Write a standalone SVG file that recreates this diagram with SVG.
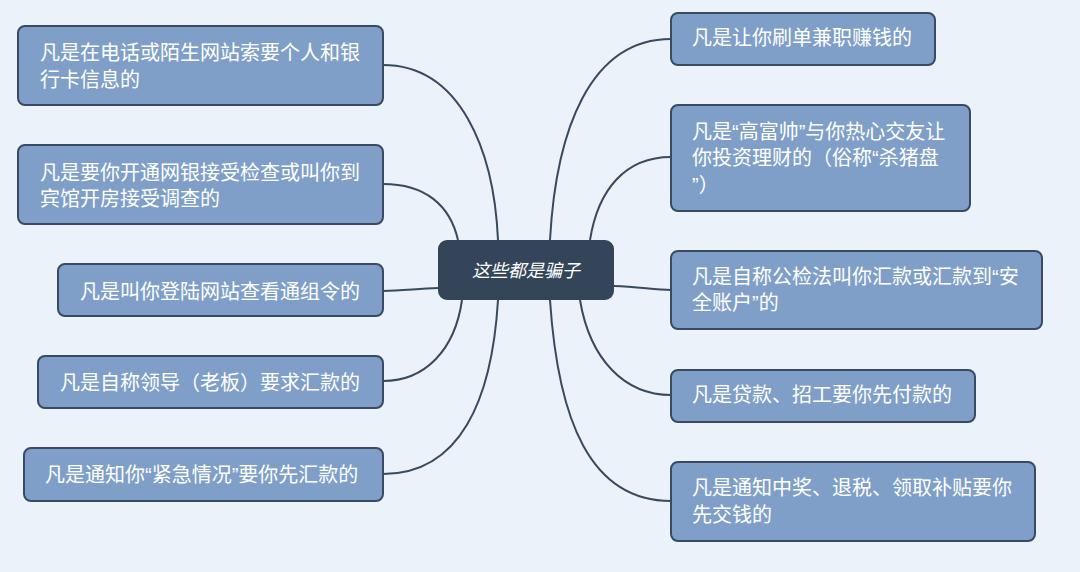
<svg xmlns="http://www.w3.org/2000/svg" width="1080" height="572" viewBox="0 0 1080 572">
<style>
.bg{fill:#ecf2f9}
.box{fill:#7f9fc8;stroke:#3a4a62;stroke-width:2}
.root{fill:#344459;stroke:#344459;stroke-width:2}
.t{font-family:"Liberation Sans","Noto Sans CJK SC",sans-serif;font-size:20px;fill:#ffffff}
.rt{font-family:"Liberation Sans","Noto Sans CJK SC",sans-serif;font-size:18px;font-style:italic;fill:#ffffff;text-anchor:middle}
.c{fill:none;stroke:#3a4a5e;stroke-width:2}
</style>
<rect class="bg" x="0" y="0" width="1080" height="572"/>
<g id="connectors">
<path class="c" d="M498 240 C494 150 460 65 383 65"/>
<path class="c" d="M458 240 C450 205 425 184 383 184"/>
<path class="c" d="M438 288 C415 289 400 291 383 291"/>
<path class="c" d="M462 300 C455 350 425 381 383 381"/>
<path class="c" d="M498 300 C492 400 460 474 383 474"/>
<path class="c" d="M550 240 C556 130 590 39 671 39"/>
<path class="c" d="M590 240 C598 190 625 157 671 157"/>
<path class="c" d="M614 286 C640 287 655 290 671 290"/>
<path class="c" d="M580 300 C590 360 625 395 671 395"/>
<path class="c" d="M550 300 C558 420 590 501 671 501"/>
</g>
<g id="root">
<rect class="root" x="439" y="241" width="174" height="58" rx="8"/>
<text class="rt" x="526" y="277">这些都是骗子</text>
</g>
<g id="l1">
<rect class="box" x="18" y="26" width="365" height="79" rx="7"/>
<text class="t" x="40" y="60">凡是在电话或陌生网站索要个人和银</text>
<text class="t" x="40" y="87">行卡信息的</text>
</g>
<g id="l2">
<rect class="box" x="18" y="145" width="365" height="79" rx="7"/>
<text class="t" x="40" y="180">凡是要你开通网银接受检查或叫你到</text>
<text class="t" x="40" y="206">宾馆开房接受调查的</text>
</g>
<g id="l3">
<rect class="box" x="58" y="264" width="325" height="52" rx="7"/>
<text class="t" x="80" y="299">凡是叫你登陆网站查看通组令的</text>
</g>
<g id="l4">
<rect class="box" x="38" y="356" width="345" height="52" rx="7"/>
<text class="t" x="60" y="390">凡是自称领导（老板）要求汇款的</text>
</g>
<g id="l5">
<rect class="box" x="24" y="448" width="359" height="53" rx="7"/>
<text class="t" x="45" y="482">凡是通知你“紧急情况”要你先汇款的</text>
</g>
<g id="r1">
<rect class="box" x="671" y="13" width="264" height="52" rx="7"/>
<text class="t" x="692" y="45">凡是让你刷单兼职赚钱的</text>
</g>
<g id="r2">
<rect class="box" x="671" y="105" width="299" height="106" rx="7"/>
<text class="t" x="692" y="139">凡是“高富帅”与你热心交友让</text>
<text class="t" x="692" y="165">你投资理财的（俗称“杀猪盘</text>
<text class="t" x="692" y="192">”）</text>
</g>
<g id="r3">
<rect class="box" x="671" y="251" width="371" height="78" rx="7"/>
<text class="t" x="692" y="284">凡是自称公检法叫你汇款或汇款到“安</text>
<text class="t" x="692" y="310">全账户”的</text>
</g>
<g id="r4">
<rect class="box" x="671" y="370" width="304" height="52" rx="7"/>
<text class="t" x="692" y="402">凡是贷款、招工要你先付款的</text>
</g>
<g id="r5">
<rect class="box" x="671" y="462" width="364" height="79" rx="7"/>
<text class="t" x="692" y="495">凡是通知中奖、退税、领取补贴要你</text>
<text class="t" x="692" y="522">先交钱的</text>
</g>
</svg>
